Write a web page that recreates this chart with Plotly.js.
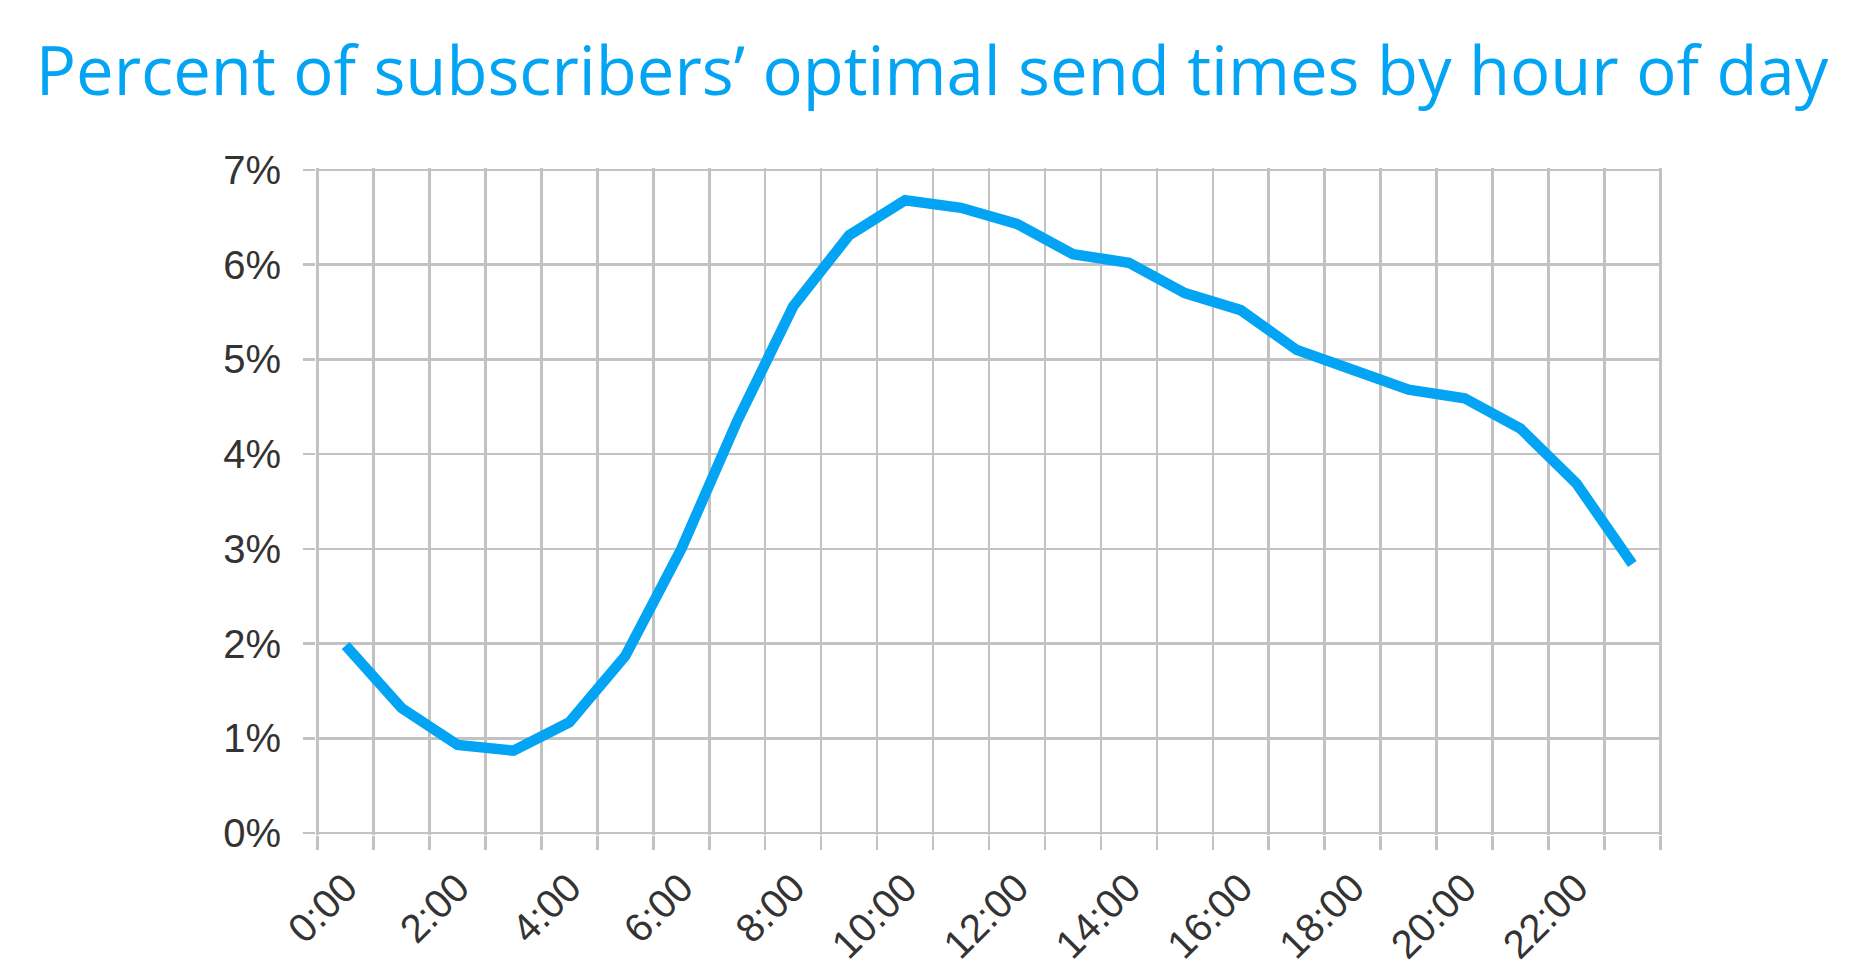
<!DOCTYPE html>
<html>
<head>
<meta charset="utf-8">
<script src="https://cdn.plot.ly/plotly-3.0.1.min.js"></script>
<style>
  html, body { margin: 0; padding: 0; background: #fff; }
  #chart { width: 1864px; height: 979px; }
</style>
</head>
<body>
<div id="chart"></div>
<script>
// hour of day (0 = midnight)
var hours = [0, 1, 2, 3, 4, 5, 6, 7, 8, 9, 10, 11, 12, 13, 14, 15, 16, 17, 18, 19, 20, 21, 22, 23];
// percent of subscribers whose optimal send time falls in that hour
var pctSubscribers = [1.98, 1.32, 0.93, 0.87, 1.17, 1.87, 3.0, 4.35, 5.56, 6.31, 6.68, 6.60,
                      6.43, 6.11, 6.02, 5.70, 5.52, 5.10, 4.89, 4.68, 4.59, 4.27, 3.69, 2.84];
// labelled hours
var labelHours = [0, 2, 4, 6, 8, 10, 12, 14, 16, 18, 20, 22];
var labelText = ['0:00', '2:00', '4:00', '6:00', '8:00', '10:00', '12:00', '14:00', '16:00', '18:00', '20:00', '22:00'];

var gridCol = '#c2c2c2';
var blue = '#04a4f4';

var data = [{
  x: hours,
  y: pctSubscribers,
  type: 'scatter',
  mode: 'lines',
  line: { color: blue, width: 10.5 },
  hoverinfo: 'x+y'
}];

// ranges are padded a hair so the edge grid lines are not clipped
var layout = {
  width: 1864,
  height: 979,
  paper_bgcolor: '#ffffff',
  plot_bgcolor: '#ffffff',
  showlegend: false,
  margin: { l: 316, r: 202, t: 168, b: 144 },
  title: {
    text: 'Percent of subscribers’ optimal send times by hour of day',
    font: { family: '"Open Sans", Roboto, sans-serif', size: 67, color: blue },
    x: 0.5, xanchor: 'center',
    y: 1 - 72 / 979, yanchor: 'middle', yref: 'container'
  },
  xaxis: {
    range: [-0.53, 23.53],
    tickmode: 'array',
    tickvals: labelHours,
    ticktext: labelText,
    ticks: '',
    showgrid: false,
    zeroline: false,
    showline: false,
    tickangle: -45,
    ticklabelstandoff: 20,
    tickfont: { family: '"Liberation Sans", Arial, sans-serif', size: 40, color: '#333' },
    minor: {
      tick0: -0.5,
      dtick: 1,
      showgrid: true,
      gridcolor: gridCol,
      gridwidth: 2.5,
      ticks: 'outside',
      ticklen: 14,
      tickwidth: 2.5,
      tickcolor: gridCol
    }
  },
  yaxis: {
    range: [-0.02, 7.02],
    dtick: 1,
    tick0: 0,
    ticksuffix: '%',
    showgrid: true,
    gridcolor: gridCol,
    gridwidth: 2.5,
    zeroline: false,
    showline: false,
    ticks: 'outside',
    ticklen: 12,
    tickwidth: 2.5,
    tickcolor: gridCol,
    ticklabelstandoff: 14,
    tickfont: { family: '"Liberation Sans", Arial, sans-serif', size: 40, color: '#333' }
  }
};

Plotly.newPlot('chart', data, layout, { displayModeBar: false, staticPlot: true });
</script>
</body>
</html>
